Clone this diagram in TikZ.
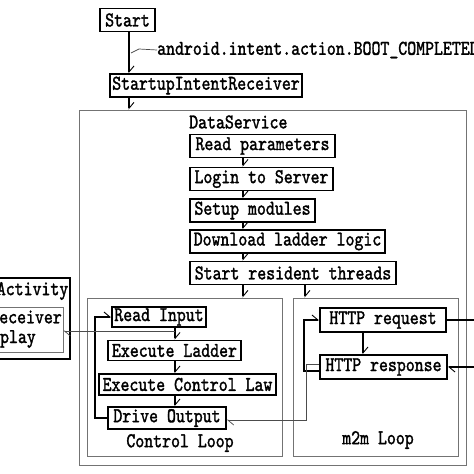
\documentclass[tikz,border=0pt]{standalone}
\usepackage{fontspec}
\setmainfont{lmmono10-regular.otf}[FakeStretch=0.81,FakeBold=1.5]
\usetikzlibrary{arrows.meta}
\begin{document}
\begin{tikzpicture}[x=1pt,y=-1pt,
  every node/.style={font=\fontsize{21}{24}\selectfont},
  pbox/.style={draw, line width=1.6pt, inner sep=0pt, minimum height=23pt},
  frame/.style={draw=black!55, line width=0.9pt, inner sep=0pt},
  lbl/.style={inner sep=0pt},
  arr/.style={line width=1.3pt, -{Straight Barb[left,length=6pt,width=10pt,line width=0.9pt]}},
  thinarr/.style={line width=0.7pt, draw=black!70, -{Straight Barb[left,length=6pt,width=10pt,line width=0.7pt]}},
  thinline/.style={line width=0.7pt, draw=black!70}]
\useasboundingbox (0,0) rectangle (474,474);
\clip (0,0) rectangle (474,474);
% frames
\node[frame, minimum width=387pt, minimum height=355pt] (ds) at (272.5,287.5) {};
\node[frame, minimum width=195pt, minimum height=158pt] (cl) at (184.5,377) {};
\node[frame, minimum width=165pt, minimum height=158pt] (mm) at (375.5,377) {};
\node[draw, line width=1.6pt, inner sep=0pt, minimum width=100pt, minimum height=81pt] (act) at (20,318.5) {};
\node[frame, minimum width=93pt, minimum height=45pt] (rcv) at (16.5,329.5) {};
% labels
\node[lbl, anchor=west] (dsl) at (189,122) {DataService};
\node[lbl] (cll) at (180,443) {Control Loop};
\node[lbl] (mml) at (378,440) {m2m Loop};
\node[lbl, anchor=east] (actl) at (68.5,291) {Activity};
\node[lbl, anchor=east] (rcvl) at (62,317) {Receiver};
\node[lbl, anchor=east] (dspl) at (36,339) {Display};
% boxes
\node[pbox, minimum width=55pt] (start) at (127.5,20) {Start};
\node[pbox, minimum width=192pt] (sir) at (206,85.5) {StartupIntentReceiver};
\node[pbox, minimum width=145pt] (rp) at (262.5,146) {Read parameters};
\node[pbox, minimum width=143pt] (login) at (261.5,179) {Login to Server};
\node[pbox, minimum width=125pt] (setup) at (252.5,210.5) {Setup modules};
\node[pbox, minimum width=195pt] (dl) at (287.5,241.5) {Download ladder logic};
\node[pbox, minimum width=206pt] (srt) at (293,273) {Start resident threads};
\node[pbox, minimum width=94pt, minimum height=20pt] (ri) at (159,317) {Read Input};
\node[pbox, minimum width=133pt, minimum height=20pt] (el) at (174.5,350.5) {Execute Ladder};
\node[pbox, minimum width=177pt, minimum height=21pt] (ecl) at (187.5,384.5) {Execute Control Law};
\node[pbox, minimum width=118pt, minimum height=22pt] (do) at (167,418) {Drive Output};
\node[pbox, minimum width=126pt, minimum height=24pt] (hreq) at (383,320) {HTTP request};
\node[pbox, minimum width=127pt, minimum height=24pt] (hresp) at (383.5,367) {HTTP response};
% top arrows
\coordinate (cx) at (129,0);
\draw[arr] (start.south -| cx) -- (sir.north -| cx);
\draw[arr] (sir.south -| cx) -- (ds.north -| cx);
\coordinate (ldA) at (131,53);
\coordinate (ldB) at (139,49);
\node[lbl, anchor=west] (intent) at (157,50) {android.intent.action.BOOT\_COMPLETED};
\draw[thinline] (ldA) -- (ldB) -- (intent.west);
% DataService chain
\coordinate (dx) at (243,0);
\draw[arr] (rp.south -| dx) -- (login.north -| dx);
\draw[arr] (login.south -| dx) -- (setup.north -| dx);
\draw[arr] (setup.south -| dx) -- (dl.north -| dx);
\draw[arr] (dl.south -| dx) -- (srt.north -| dx);
\draw[arr] (srt.south -| dx) -- (cl.north -| dx);
\coordinate (mx) at (305,0);
\draw[arr] (srt.south -| mx) -- (mm.north -| mx);
% control loop
\coordinate (ex) at (175,0);
\draw[arr] (ri.south -| ex) -- (el.north -| ex);
\draw[arr] (el.south -| ex) -- (ecl.north -| ex);
\draw[arr] (ecl.south -| ex) -- (do.north -| ex);
\coordinate (lx) at (95,0);
\draw[arr] (do.west) -- (do.west -| lx) |- (ri.west);
\coordinate (ax) at (175,331);
\draw[thinarr] (ax) -- (ax -| rcv.east);
% m2m loop
\coordinate (hx) at (363,0);
\draw[arr] (hreq.south -| hx) -- (hresp.north -| hx);
\coordinate (hl) at (304,0);
\draw[arr] ([yshift=-4pt]hresp.west) -- ([yshift=-4pt]hresp.west -| hl) |- (hreq.west);
\coordinate (gx) at (306,0);
\draw[thinarr] ([yshift=3pt]hresp.west) -- ([yshift=3pt]hresp.west -| gx) |- ([yshift=-2pt]do.east);
\coordinate (re) at (480,0);
\draw[line width=1.3pt] (hreq.east) -- (hreq.east -| re);
\draw[arr] (hresp.east -| re) -- (hresp.east);
\end{tikzpicture}
\end{document}
